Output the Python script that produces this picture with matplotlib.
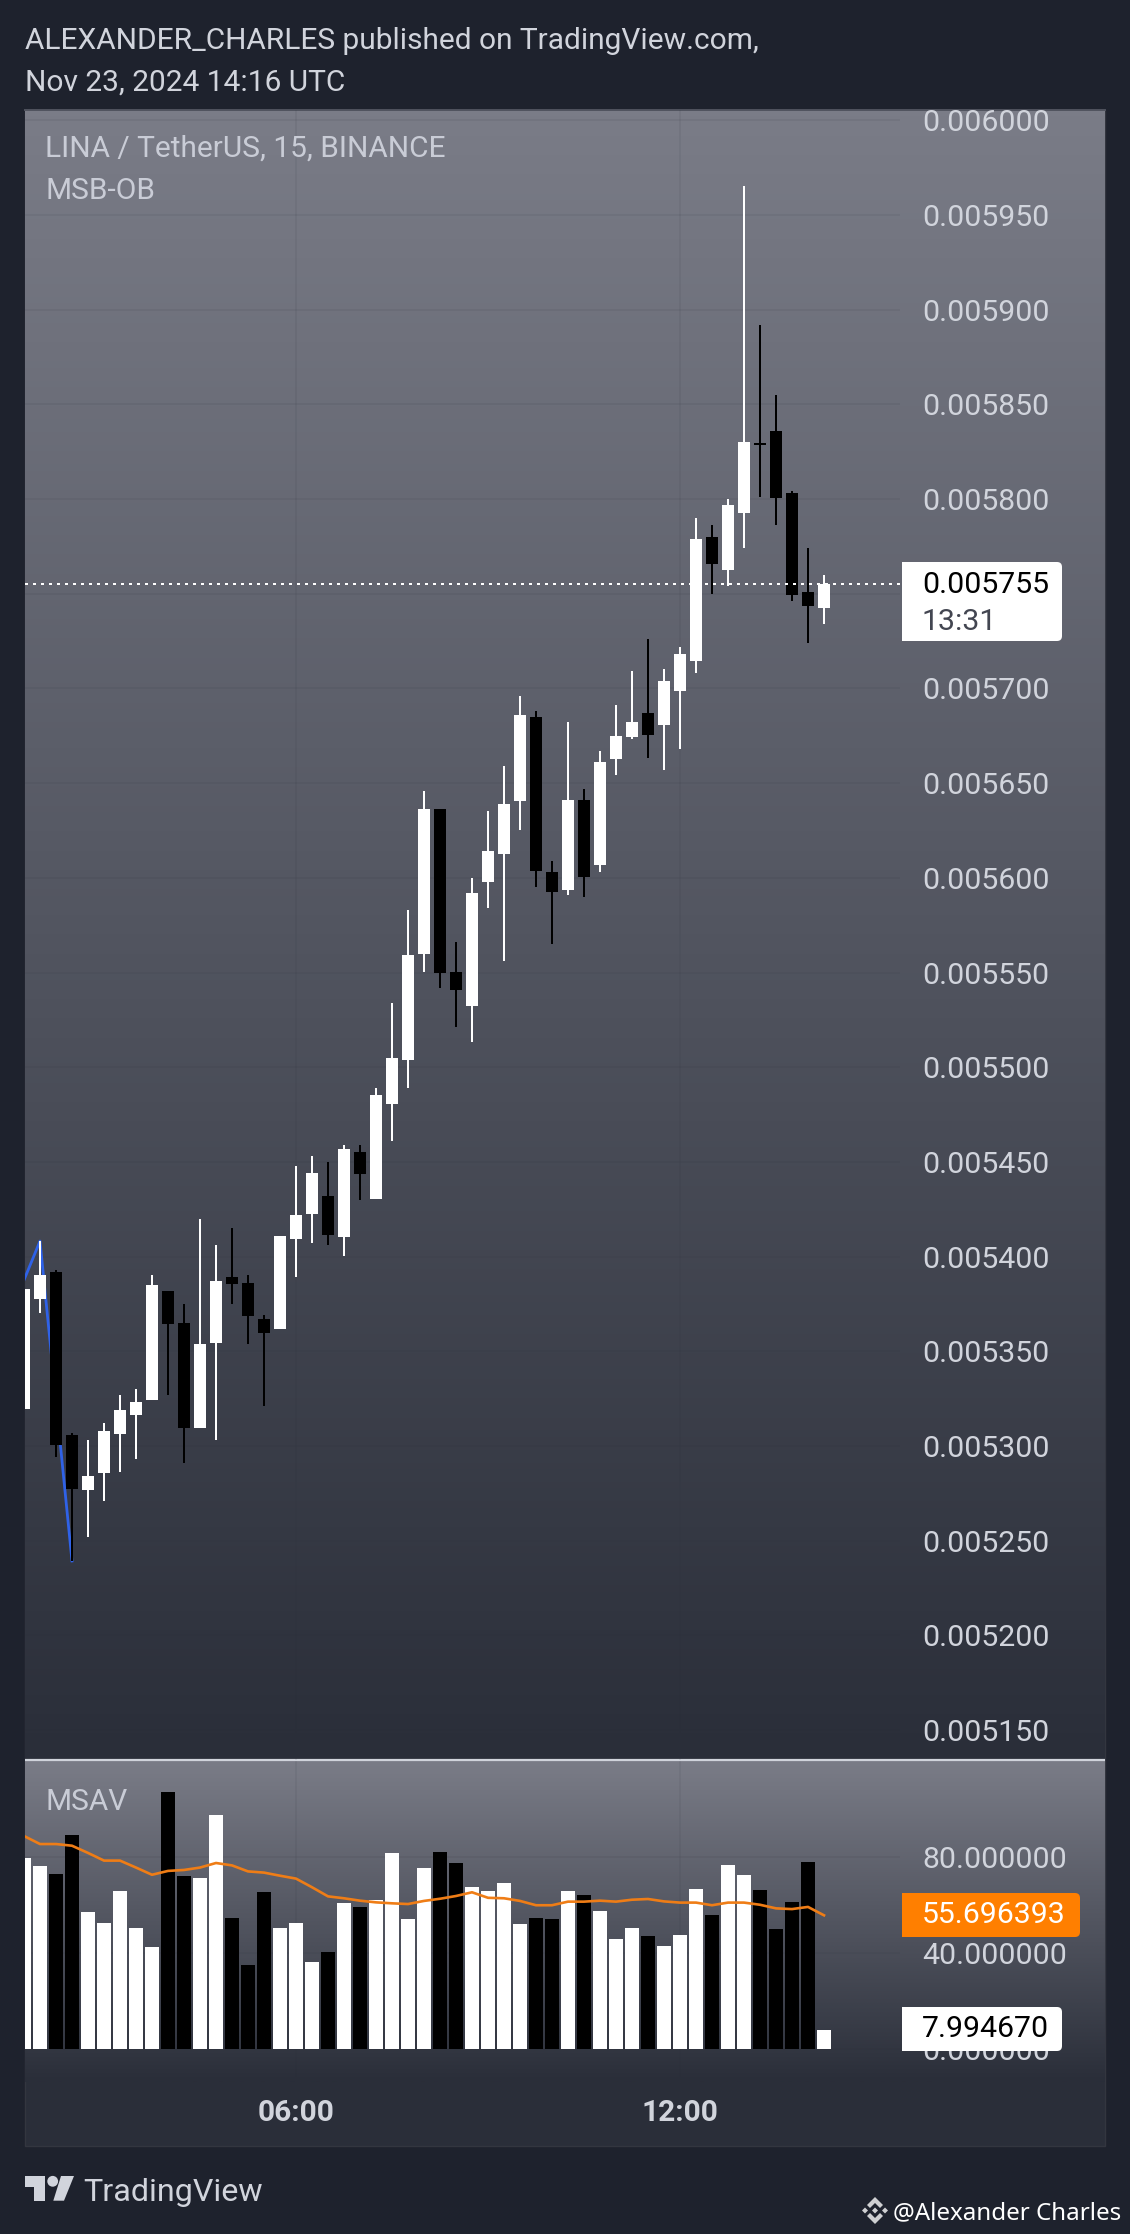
import numpy as np
import matplotlib
matplotlib.use('Agg')
import matplotlib.pyplot as plt
from matplotlib.patches import Polygon, Circle, Rectangle, FancyBboxPatch
from matplotlib.colors import LinearSegmentedColormap

plt.rcParams['font.family'] = ['Roboto', 'DejaVu Sans']

# prices are in 1e-6 USDT
opens = [5319.5, 5377.6, 5391.9, 5305.8, 5276.8, 5285.7, 5306.3, 5316.4, 5324.3, 5381.8,
         5364.9, 5309.5, 5354.4, 5389.2, 5386.0, 5367.0, 5361.8, 5409.3, 5422.5, 5432.0,
         5410.3, 5455.2, 5430.4, 5480.6, 5503.8, 5559.8, 5636.3, 5550.3, 5532.3, 5597.8,
         5612.6, 5640.5, 5684.9, 5603.1, 5593.6, 5641.1, 5606.8, 5662.7, 5674.3, 5687.0,
         5680.7, 5698.6, 5714.5, 5779.9, 5762.5, 5792.6, 5829.6, 5835.9, 5803.2, 5750.9,
         5742.4]
highs = [5382.9, 5408.2, 5392.9, 5306.8, 5303.2, 5312.1, 5326.9, 5330.1, 5390.3, 5381.8,
         5375.0, 5419.8, 5406.1, 5415.1, 5390.3, 5369.2, 5410.9, 5447.8, 5453.1, 5449.9,
         5458.9, 5458.9, 5489.0, 5533.9, 5583.0, 5645.8, 5636.3, 5566.1, 5599.9, 5635.3,
         5659.0, 5696.0, 5688.1, 5608.9, 5682.3, 5646.9, 5666.9, 5691.2, 5709.2, 5726.1,
         5710.2, 5721.9, 5790.0, 5786.3, 5800.0, 5965.3, 5891.9, 5854.9, 5804.2, 5774.1,
         5759.9]
lows = [5319.5, 5370.2, 5294.2, 5239.3, 5251.9, 5270.9, 5286.3, 5293.1, 5324.3, 5326.9,
        5291.0, 5309.5, 5303.2, 5375.0, 5353.8, 5321.1, 5361.8, 5389.2, 5407.2, 5406.1,
        5400.3, 5429.9, 5430.4, 5461.0, 5489.0, 5550.3, 5541.8, 5521.2, 5513.3, 5584.0,
        5556.1, 5625.2, 5595.1, 5565.0, 5590.9, 5589.9, 5603.1, 5654.3, 5673.3, 5663.2,
        5656.9, 5668.0, 5708.1, 5749.8, 5754.1, 5774.1, 5801.1, 5786.3, 5746.1, 5724.0,
        5734.0]
closes = [5382.9, 5390.3, 5300.5, 5277.3, 5284.1, 5307.9, 5319.0, 5323.2, 5385.0, 5364.4,
          5309.5, 5353.8, 5387.1, 5385.5, 5368.6, 5359.6, 5410.9, 5422.0, 5444.1, 5411.4,
          5456.8, 5443.6, 5485.3, 5504.8, 5559.2, 5636.3, 5549.7, 5540.8, 5592.0, 5614.1,
          5639.0, 5686.0, 5603.6, 5592.5, 5641.1, 5600.4, 5661.1, 5674.9, 5682.3, 5675.4,
          5703.9, 5718.2, 5778.9, 5765.7, 5796.8, 5830.1, 5828.5, 5800.5, 5749.3, 5743.5,
          5755.0]

msav_bars = [79.6, 76.3, 72.9, 89.2, 57.1, 52.5, 65.8, 50.4, 42.5, 107.1,
             72.1, 71.3, 97.5, 54.6, 35.0, 65.4, 50.4, 52.5, 36.3, 40.4,
             60.8, 59.2, 62.1, 81.7, 54.2, 75.4, 82.1, 77.5, 67.5, 65.8,
             69.2, 52.1, 54.6, 54.2, 65.8, 64.2, 57.5, 45.8, 50.4, 47.1,
             42.9, 47.5, 66.7, 55.8, 76.7, 72.5, 66.25, 50.0, 61.3, 77.9,
             7.99467]
msav_line = [88.75, 85.4, 85.4, 84.7, 81.7, 78.5, 78.5, 75.6, 72.6, 74.2,
             74.6, 75.6, 77.5, 76.5, 74.0, 73.5, 72.2, 71.0, 67.4, 63.6,
             62.8, 61.8, 61.1, 60.7, 60.4, 61.7, 62.6, 63.75, 65.3, 63.0,
             62.8, 61.7, 59.9, 59.9, 61.4, 61.4, 61.8, 61.4, 62.2, 62.5,
             61.5, 61.0, 61.0, 59.9, 61.0, 61.0, 60.1, 58.6, 58.3, 59.2,
             55.696393]

zigzag_idx = [0, 1, 3]
zigzag_price = [5387.6, 5408.2, 5239.3]

price_ticks = [5150, 5200, 5250, 5300, 5350, 5400, 5450, 5500, 5550,
               5600, 5650, 5700, 5750, 5800, 5850, 5900, 5950, 6000]
msav_ticks = [0, 40, 80]
time_idx = [17, 41]
time_labels = ['06:00', '12:00']
last_price = 5755.0
last_volume = 7.99467
last_ma = 55.696393

W, H = 1130, 2234
BG = '#1e222d'
PANE = '#2a2e39'
TXT = '#d1d4dc'
FS = 21.5
TICK_FS = 21.8


def rect(x0, y0, x1, y1):
    return [x0 / W, 1 - y1 / H, (x1 - x0) / W, (y1 - y0) / H]


fig = plt.figure(figsize=(W / 100, H / 100), dpi=100, facecolor=BG)

# backgrounds, in pixels
bg = fig.add_axes([0, 0, 1, 1], zorder=0)
bg.axis('off')
cmap = LinearSegmentedColormap.from_list('pane', ['#7a7c87', PANE])
grad = np.linspace(0, 1, 256).reshape(-1, 1)
bg.add_patch(Rectangle((25, 110), 1080, 2036, fc=PANE, ec='#33363f', lw=1, zorder=0))
bg.imshow(grad, cmap=cmap, extent=(25, 1105, 1759, 110), aspect='auto', zorder=1)
bg.imshow(grad, cmap=cmap, extent=(25, 1105, 2082, 1761), aspect='auto', zorder=1)
bg.plot([25, 1105], [1760, 1760], color=TXT, lw=1.6, solid_capstyle='butt', zorder=2)
bg.plot([25, 1105], [110, 110], color='#50535e', lw=1.4, zorder=2)
bg.set_xlim(0, W)
bg.set_ylim(H, 0)

o = np.array(opens)
h = np.array(highs)
l = np.array(lows)
c = np.array(closes)
idx = np.arange(len(o))
cols = np.where(c >= o, 'white', 'black')

# price pane
ax = fig.add_axes(rect(25, 110, 900, 1760), zorder=2)
ax.patch.set_alpha(0)
ax.set_xlim(0.0625, 54.75)
ax.set_ylim(5134.2, 6005.4)
ax.plot(zigzag_idx, zigzag_price, color='#2f62e8', lw=2, zorder=2)
ax.vlines(idx, l, h, colors=cols, lw=1.44, zorder=3)
ax.bar(idx, np.abs(c - o), bottom=np.minimum(o, c), width=0.75, color=cols, zorder=4)
ax.axhline(last_price, color='white', lw=1.44, ls=(0, (1.5, 2.5)), zorder=5)
ax.set_yticks(price_ticks)
# the 0.005750 label sits behind the last price tag, only its grid line shows
ax.set_yticklabels(['' if p == 5750 else '%.6f' % (p * 1e-6) for p in price_ticks])
ax.set_xticks(time_idx)
ax.tick_params(axis='x', length=0, labelbottom=False)
ax.yaxis.tick_right()
ax.tick_params(axis='y', length=0, pad=15.8, labelsize=TICK_FS, labelcolor=TXT)
ax.grid(color=PANE, alpha=0.08, lw=1.4)
ax.set_axisbelow(True)
for s in ax.spines.values():
    s.set_visible(False)

# MSAV pane
ax2 = fig.add_axes(rect(25, 1761, 900, 2082), zorder=2)
ax2.patch.set_alpha(0)
ax2.set_xlim(0.0625, 54.75)
ax2.set_ylim(-13.75, 120)
ax2.bar(idx, msav_bars, width=0.875, color=cols, zorder=3)
ax2.plot(idx, msav_line, color='#ef7d16', lw=1.9, zorder=4)
ax2.set_yticks(msav_ticks)
ax2.set_yticklabels(['%.6f' % v for v in msav_ticks])
ax2.set_xticks(time_idx)
ax2.set_xticklabels(time_labels, fontweight='bold', fontsize=FS, color=TXT)
ax2.yaxis.tick_right()
ax2.tick_params(axis='y', length=0, pad=15.8, labelsize=TICK_FS, labelcolor=TXT)
ax2.tick_params(axis='x', length=0, pad=12)
ax2.grid(color=PANE, alpha=0.08, lw=1.4)
ax2.set_axisbelow(True)
for s in ax2.spines.values():
    s.set_visible(False)

# overlay for labels and logos, in pixels
ov = fig.add_axes([0, 0, 1, 1], zorder=5)
ov.set_xlim(0, W)
ov.set_ylim(H, 0)
ov.axis('off')


def tag(x0, y0, x1, y1, color):
    ov.add_patch(FancyBboxPatch((x0, y0), x1 - x0, y1 - y0, boxstyle='round,pad=0,rounding_size=5',
                                fc=color, ec='none'))
    ov.add_patch(Rectangle((x0, y0), 12, y1 - y0, fc=color, ec='none'))


tag(902, 562, 1062, 641, 'white')
ov.text(922, 585, '%.6f' % (last_price * 1e-6), fontsize=TICK_FS, color='black', va='center')
ov.text(922, 622, '13:31', fontsize=TICK_FS, color='#434651', va='center')
tag(902, 1893, 1080, 1937, '#ff7f00')
ov.text(922, 1915, '%.6f' % last_ma, fontsize=TICK_FS, color='white', va='center')
tag(902, 2007, 1062, 2051, 'white')
ov.text(922, 2029, '%.6f' % last_volume, fontsize=TICK_FS, color='black', va='center')

ov.text(25, 49, 'ALEXANDER_CHARLES published on TradingView.com,', fontsize=FS, color=TXT, va='baseline')
ov.text(25, 91, 'Nov 23, 2024 14:16 UTC', fontsize=FS, color=TXT, va='baseline')
ov.text(45, 157, 'LINA / TetherUS, 15, BINANCE', fontsize=FS, color='#c9ccd6', va='baseline')
ov.text(45, 199, 'MSB-OB', fontsize=FS, color='#c9ccd6', va='baseline')
ov.text(45, 1810, 'MSAV', fontsize=FS, color='#c9ccd6', va='baseline')

# TradingView logo
ov.add_patch(Polygon([(25, 2176), (45, 2176), (45, 2200.7), (34, 2200.7), (34, 2187), (25, 2187)], fc=TXT, ec='none'))
ov.add_patch(Circle((52.7, 2181.3), 5.4, fc=TXT, ec='none'))
ov.add_patch(Polygon([(61, 2176), (74, 2176), (64, 2200.7), (53.3, 2200.7)], fc=TXT, ec='none'))
ov.text(83, 2200.7, 'TradingView', fontsize=23.2, color=TXT, va='baseline')

# Binance logo
LOGO = '#cfd0d2'
top = [(875, 2197), (883, 2205), (880, 2208), (875, 2203), (870, 2208), (867, 2205)]
ov.add_patch(Polygon(top, fc=LOGO, ec='none'))
ov.add_patch(Polygon([(x, 4421 - y) for x, y in top], fc=LOGO, ec='none'))
for cx in [865, 875, 885]:
    ov.add_patch(Polygon([(cx - 3, 2210.5), (cx, 2207.5), (cx + 3, 2210.5), (cx, 2213.5)], fc=LOGO, ec='none'))
ov.text(893, 2219, '@Alexander Charles', fontsize=17.4, family=['Noto Sans', 'DejaVu Sans'], color='white', va='baseline')

fig.savefig('out.png', dpi=100, facecolor=BG)
